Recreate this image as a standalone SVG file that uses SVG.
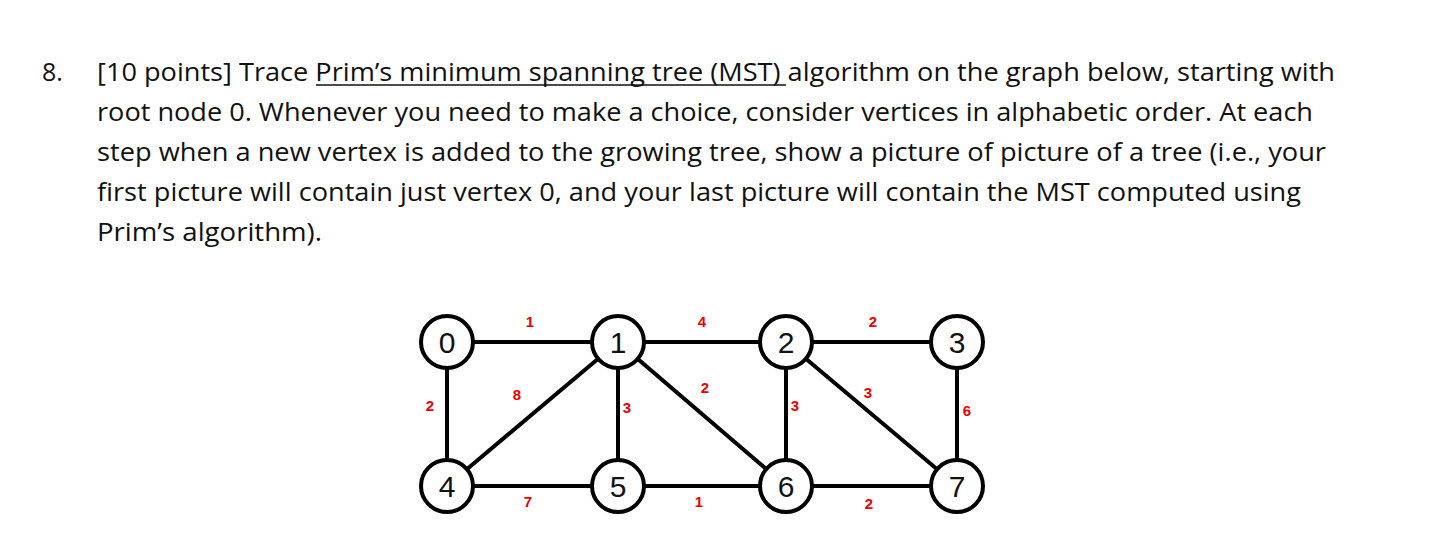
<svg xmlns="http://www.w3.org/2000/svg" width="1443" height="537" viewBox="0 0 1443 537">
<style>
.t{font-family:"Open Sans","Liberation Sans",sans-serif;font-size:25px;fill:#111}
.n circle{fill:#fff;stroke:#000;stroke-width:4}
.n text{font-family:"Liberation Sans",sans-serif;font-size:30px;text-anchor:middle;fill:#111}
.e line{stroke:#000;stroke-width:4}
.w{font-family:"Liberation Sans",sans-serif;font-weight:bold;font-size:15px;fill:#e00;text-anchor:middle}
</style>
<rect width="1443" height="537" fill="#fff"/>
<text class="t" x="42" y="81">8.</text>
<text class="t" x="97" y="81" textLength="1238" lengthAdjust="spacingAndGlyphs">[10 points] Trace Prim’s minimum spanning tree (MST) algorithm on the graph below, starting with</text>
<line x1="316" y1="85" x2="786" y2="85" stroke="#111" stroke-width="1.5"/>
<text class="t" x="97" y="121" textLength="1216" lengthAdjust="spacingAndGlyphs">root node 0. Whenever you need to make a choice, consider vertices in alphabetic order. At each</text>
<text class="t" x="97" y="161" textLength="1229" lengthAdjust="spacingAndGlyphs">step when a new vertex is added to the growing tree, show a picture of picture of a tree (i.e., your</text>
<text class="t" x="97" y="201" textLength="1204" lengthAdjust="spacingAndGlyphs">first picture will contain just vertex 0, and your last picture will contain the MST computed using</text>
<text class="t" x="97" y="241" textLength="225" lengthAdjust="spacingAndGlyphs">Prim’s algorithm).</text>
<g id="edges" class="e">
<line x1="447" y1="342" x2="618" y2="342"/>
<line x1="618" y1="342" x2="786" y2="342"/>
<line x1="786" y1="342" x2="957" y2="342"/>
<line x1="447" y1="342" x2="447" y2="486"/>
<line x1="618" y1="342" x2="447" y2="486"/>
<line x1="618" y1="342" x2="618" y2="486"/>
<line x1="618" y1="342" x2="786" y2="486"/>
<line x1="786" y1="342" x2="786" y2="486"/>
<line x1="786" y1="342" x2="957" y2="486"/>
<line x1="957" y1="342" x2="957" y2="486"/>
<line x1="447" y1="486" x2="618" y2="486"/>
<line x1="618" y1="486" x2="786" y2="486"/>
<line x1="786" y1="486" x2="957" y2="486"/>
</g>
<g id="weights">
<text class="w" x="530" y="327">1</text>
<text class="w" x="702" y="327">4</text>
<text class="w" x="873" y="327">2</text>
<text class="w" x="430" y="411">2</text>
<text class="w" x="517" y="400">8</text>
<text class="w" x="627" y="413">3</text>
<text class="w" x="705" y="393">2</text>
<text class="w" x="795" y="411">3</text>
<text class="w" x="868" y="398">3</text>
<text class="w" x="967" y="416">6</text>
<text class="w" x="528" y="507">7</text>
<text class="w" x="699" y="507">1</text>
<text class="w" x="869" y="509">2</text>
</g>
<g id="n0" class="n"><circle cx="447" cy="342" r="26"/><text x="447" y="353">0</text></g>
<g id="n1" class="n"><circle cx="618" cy="342" r="26"/><text x="618" y="353">1</text></g>
<g id="n2" class="n"><circle cx="786" cy="342" r="26"/><text x="786" y="353">2</text></g>
<g id="n3" class="n"><circle cx="957" cy="342" r="26"/><text x="957" y="353">3</text></g>
<g id="n4" class="n"><circle cx="447" cy="486" r="26"/><text x="447" y="497">4</text></g>
<g id="n5" class="n"><circle cx="618" cy="486" r="26"/><text x="618" y="497">5</text></g>
<g id="n6" class="n"><circle cx="786" cy="486" r="26"/><text x="786" y="497">6</text></g>
<g id="n7" class="n"><circle cx="957" cy="486" r="26"/><text x="957" y="497">7</text></g>
</svg>
